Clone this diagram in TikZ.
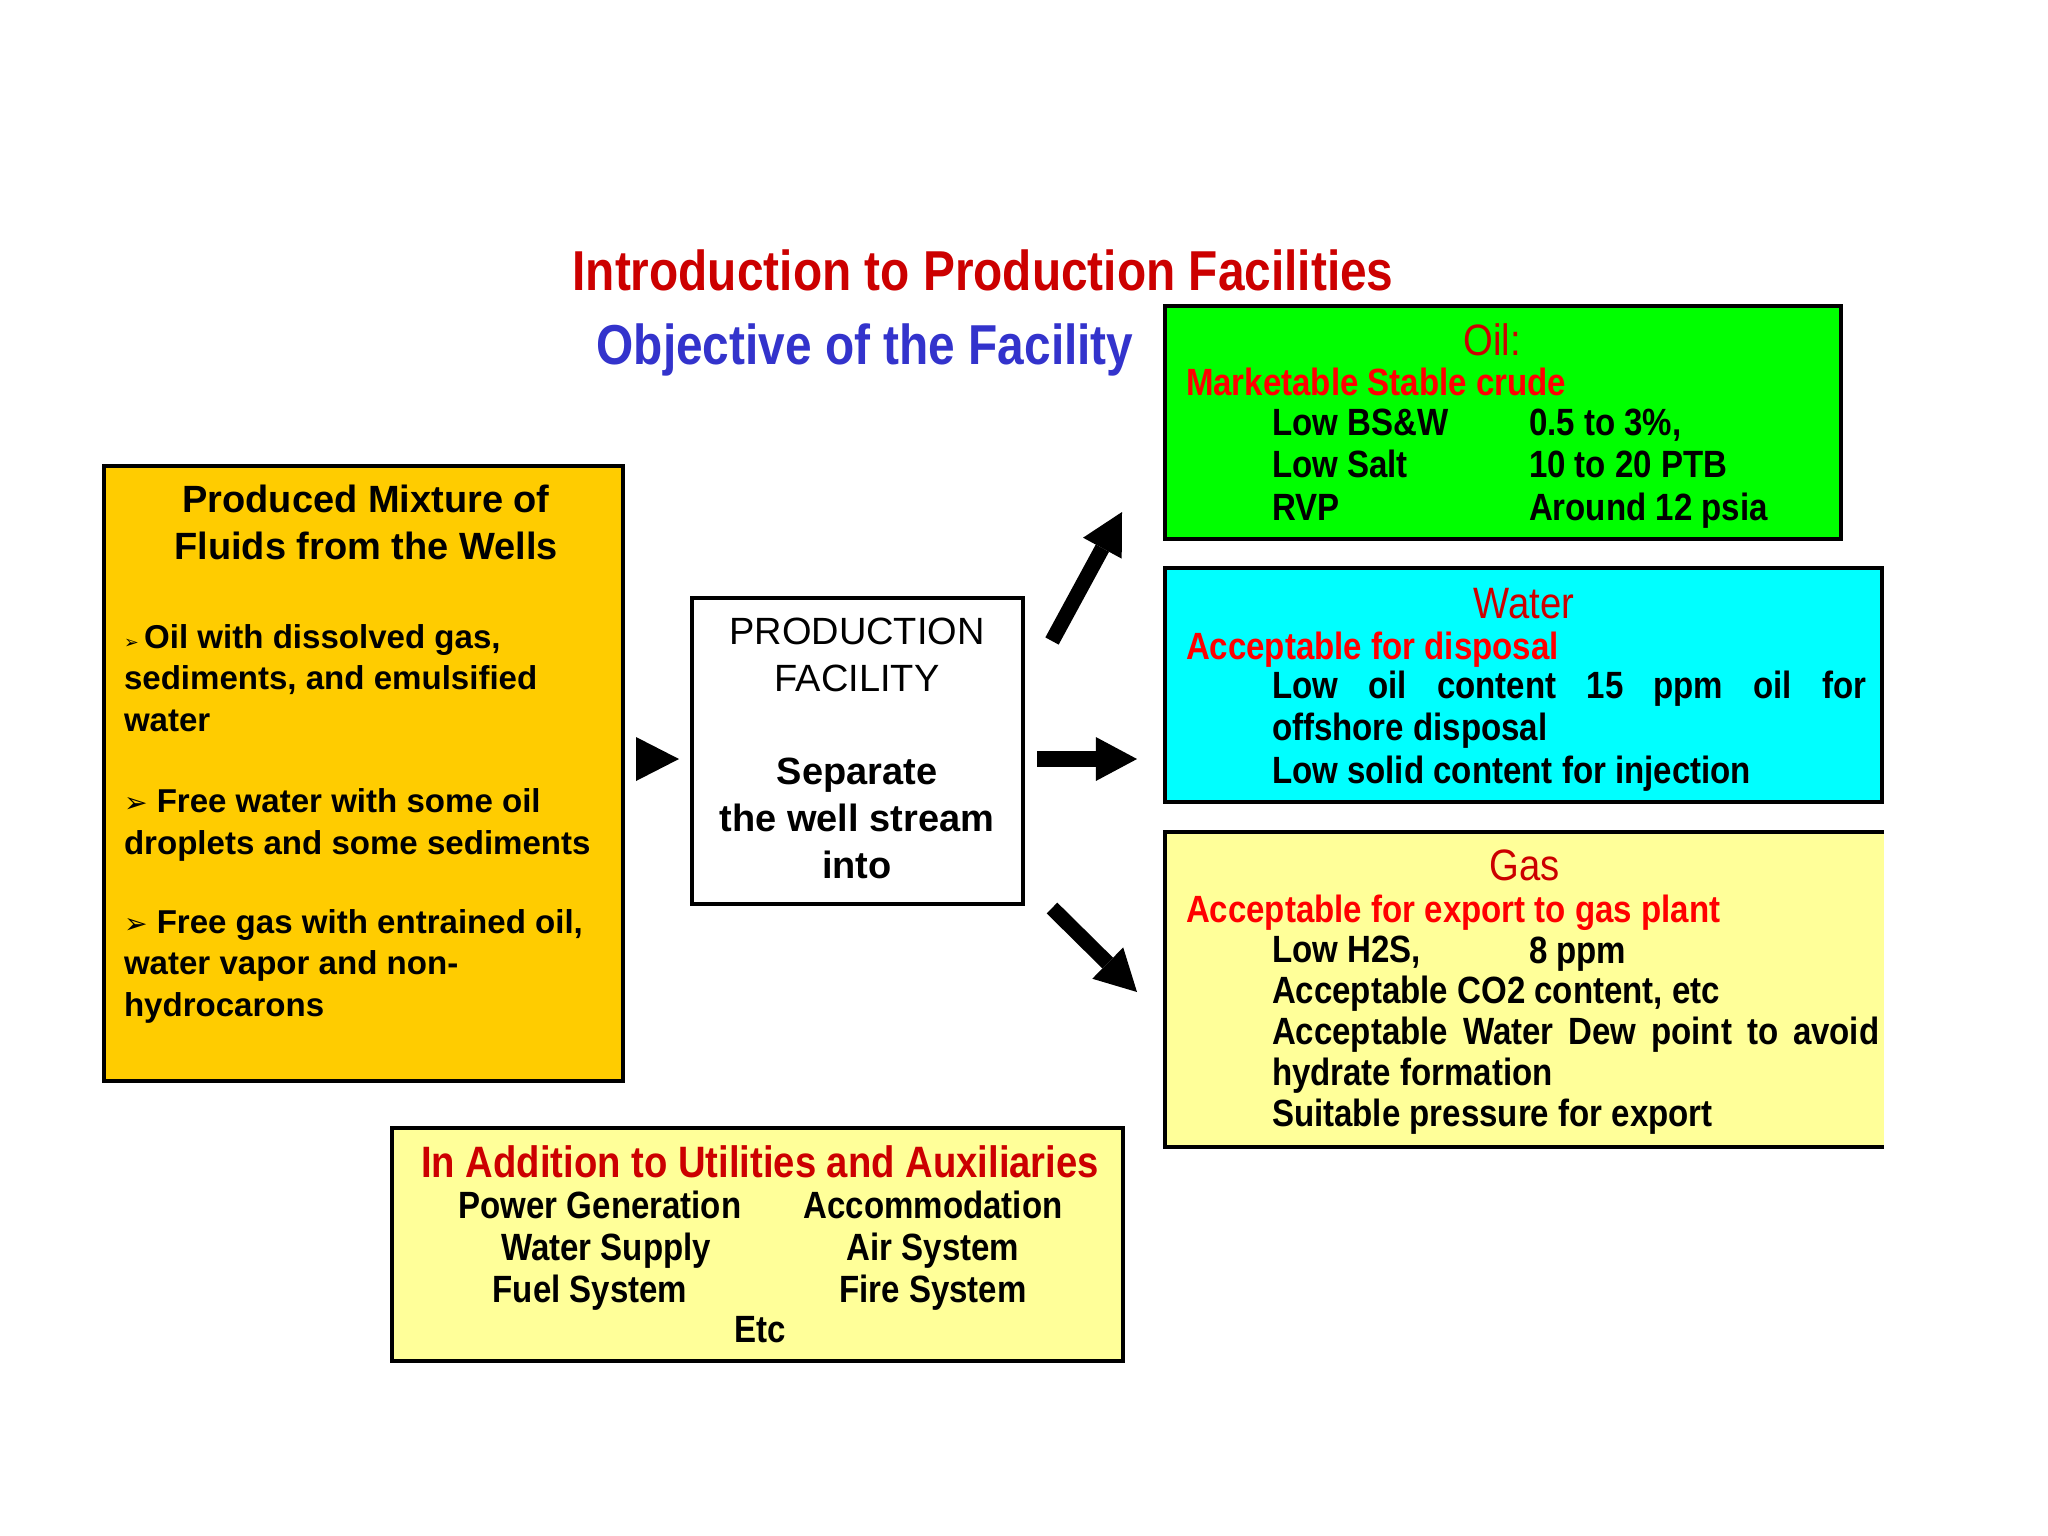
\documentclass[tikz,border=0pt]{standalone}
\usepackage{fontspec}
\setmainfont{Liberation Sans}
\newfontfamily\titlefont[FakeStretch=0.85]{Liberation Sans}
\newfontfamily\narrowfont[FakeStretch=0.87]{Liberation Sans}
\newfontfamily\symbolfont{DejaVu Sans}
\usetikzlibrary{arrows.meta}
\definecolor{darkred}{RGB}{204,0,0}
\definecolor{brightred}{RGB}{255,0,0}
\definecolor{titleblue}{RGB}{51,51,204}
\definecolor{mixorange}{RGB}{255,204,0}
\definecolor{oilgreen}{RGB}{0,255,0}
\definecolor{watercyan}{RGB}{0,255,255}
\definecolor{paleyellow}{RGB}{255,255,153}
\begin{document}
\begin{tikzpicture}[x=0.01cm,y=-0.01cm,
  box/.style={draw=black, line width=1.1pt, inner sep=0pt, outer sep=0pt},
  txt/.style={inner sep=0pt, outer sep=0pt},
  leftbody/.style={txt, anchor=base west, align=left, font=\bfseries\fontsize{9.4pt}{11.7pt}\selectfont},
  nbody/.style={txt, anchor=base west, align=left, font=\narrowfont\bfseries\fontsize{10.8pt}{11.95pt}\selectfont},
  nsub/.style={txt, anchor=base west, text=brightred, font=\narrowfont\bfseries\fontsize{10.8pt}{11.95pt}\selectfont},
  nhead/.style={txt, anchor=base, text=darkred, font=\narrowfont\fontsize{12.5pt}{13pt}\selectfont},
  utilitem/.style={txt, anchor=base, font=\narrowfont\bfseries\fontsize{10.8pt}{11.95pt}\selectfont},
  fatarrow/.style={line width=4.3pt, -{Triangle[length=11.7pt,width=12.5pt,line width=0pt]}},
]
\useasboundingbox (0,0) rectangle (2048,1536);
\fill[white] (0,0) rectangle (2048,1536);

% titles
\node[txt, anchor=base, text=darkred, font=\titlefont\bfseries\fontsize{16pt}{18pt}\selectfont] (title) at (983,290) {Introduction to Production Facilities};
\node[txt, anchor=base, text=titleblue, font=\titlefont\bfseries\fontsize{16pt}{18pt}\selectfont] (objective) at (865,364) {Objective of the Facility};

% boxes
\node[box, fill=mixorange, minimum width=5.19cm, minimum height=6.15cm] (mix) at (363.5,773.5) {};
\node[box, fill=white, minimum width=3.31cm, minimum height=3.06cm] (pf) at (857.5,751) {};
\node[box, fill=oilgreen, minimum width=6.76cm, minimum height=2.33cm] (oil) at (1503,422.5) {};
\node[box, fill=watercyan, minimum width=7.17cm, minimum height=2.34cm] (water) at (1523.5,685) {};
\node[txt, fill=paleyellow, minimum width=7.19cm, minimum height=3.15cm] (gas) at (1524.5,989.5) {};
\draw[line width=1.1pt] (gas.north east) -- (gas.north west) -- (gas.south west) -- (gas.south east);
\node[box, fill=paleyellow, minimum width=7.31cm, minimum height=2.33cm] (util) at (757.5,1244.5) {};

% left box text (multi-line nodes: base = baseline of last line)
\node[txt, anchor=base, align=center, font=\bfseries\fontsize{10.8pt}{13.1pt}\selectfont] (mixhead) at (366,559) {Produced Mixture of\\Fluids from the Wells};
\node[leftbody] (mixb1) at (124,731) {{\symbolfont\fontsize{5pt}{5pt}\selectfont ➢}\,Oil with dissolved gas,\\sediments, and emulsified\\water};
\node[leftbody] (mixb2) at (124,854) {{\symbolfont\fontsize{8pt}{8pt}\selectfont ➢} Free water with some oil\\droplets and some sediments};
\node[leftbody] (mixb3) at (124,1016) {{\symbolfont\fontsize{8pt}{8pt}\selectfont ➢} Free gas with entrained oil,\\water vapor and non-\\hydrocarons};

% production facility text
\node[txt, anchor=base, align=center, font=\fontsize{10.8pt}{13.3pt}\selectfont] (pfhead) at (857,691) {PRODUCTION\\FACILITY};
\node[txt, anchor=base, align=center, font=\bfseries\fontsize{10.8pt}{13.3pt}\selectfont] (pftext) at (857,878) {Separate\\the well stream\\into};

% oil
\node[nhead] (oilhead) at (1492,355) {Oil:};
\node[nsub] (oilsub) at (1186,395) {Marketable Stable crude};
\node[nbody] (oilitems) at (1272,520) {Low BS\&W\\Low Salt\\RVP};
\node[nbody] (oilvals) at (1529,520) {0.5 to 3\%,\\10 to 20 PTB\\Around 12 psia};

% water
\node[nhead] (waterhead) at (1524,618) {Water};
\node[nsub] (watersub) at (1186,659) {Acceptable for disposal};
\node[nbody] (wateritems) at (1272,783) {\makebox[5.94cm][s]{Low oil content 15 ppm oil for}\\offshore disposal\\Low solid content for injection};

% gas
\node[nhead] (gashead) at (1525,880) {Gas};
\node[nsub] (gassub) at (1186,922) {Acceptable for export to gas plant};
\node[nbody, font=\narrowfont\bfseries\fontsize{10.8pt}{11.6pt}\selectfont] (gasitems) at (1272,1126) {Low H2S,\\Acceptable CO2 content, etc\\\makebox[6.07cm][s]{Acceptable Water Dew point to avoid}\\hydrate formation\\Suitable pressure for export};
\node[nbody] (gasval) at (1529,963) {8 ppm};

% utilities
\node[txt, anchor=base, text=darkred, font=\narrowfont\bfseries\fontsize{12.5pt}{13pt}\selectfont] (utilhead) at (760,1177) {In Addition to Utilities and Auxiliaries};
\node[utilitem] (u1) at (600,1218) {Power Generation};
\node[utilitem] (u2) at (933,1218) {Accommodation};
\node[utilitem] (u3) at (606,1260) {Water Supply};
\node[utilitem] (u4) at (933,1260) {Air System};
\node[utilitem] (u5) at (590,1302) {Fuel System};
\node[utilitem] (u6) at (933,1302) {Fire System};
\node[utilitem] (u7) at (760,1342) {Etc};

% connectors
\coordinate (inA) at (636,737);
\coordinate (inTip) at (679,759);
\coordinate (inB) at (636,781);
\fill (inA) -- (inTip) -- (inB) -- cycle;
\coordinate (upS) at (1052,641);
\coordinate (upE) at (1122,512);
\coordinate (midS) at (1037,759);
\coordinate (midE) at (1137,759);
\coordinate (dnS) at (1052,908);
\coordinate (dnE) at (1137,992);
\draw[fatarrow] (upS) -- (upE);
\draw[fatarrow] (midS) -- (midE);
\draw[fatarrow] (dnS) -- (dnE);
\end{tikzpicture}
\end{document}
